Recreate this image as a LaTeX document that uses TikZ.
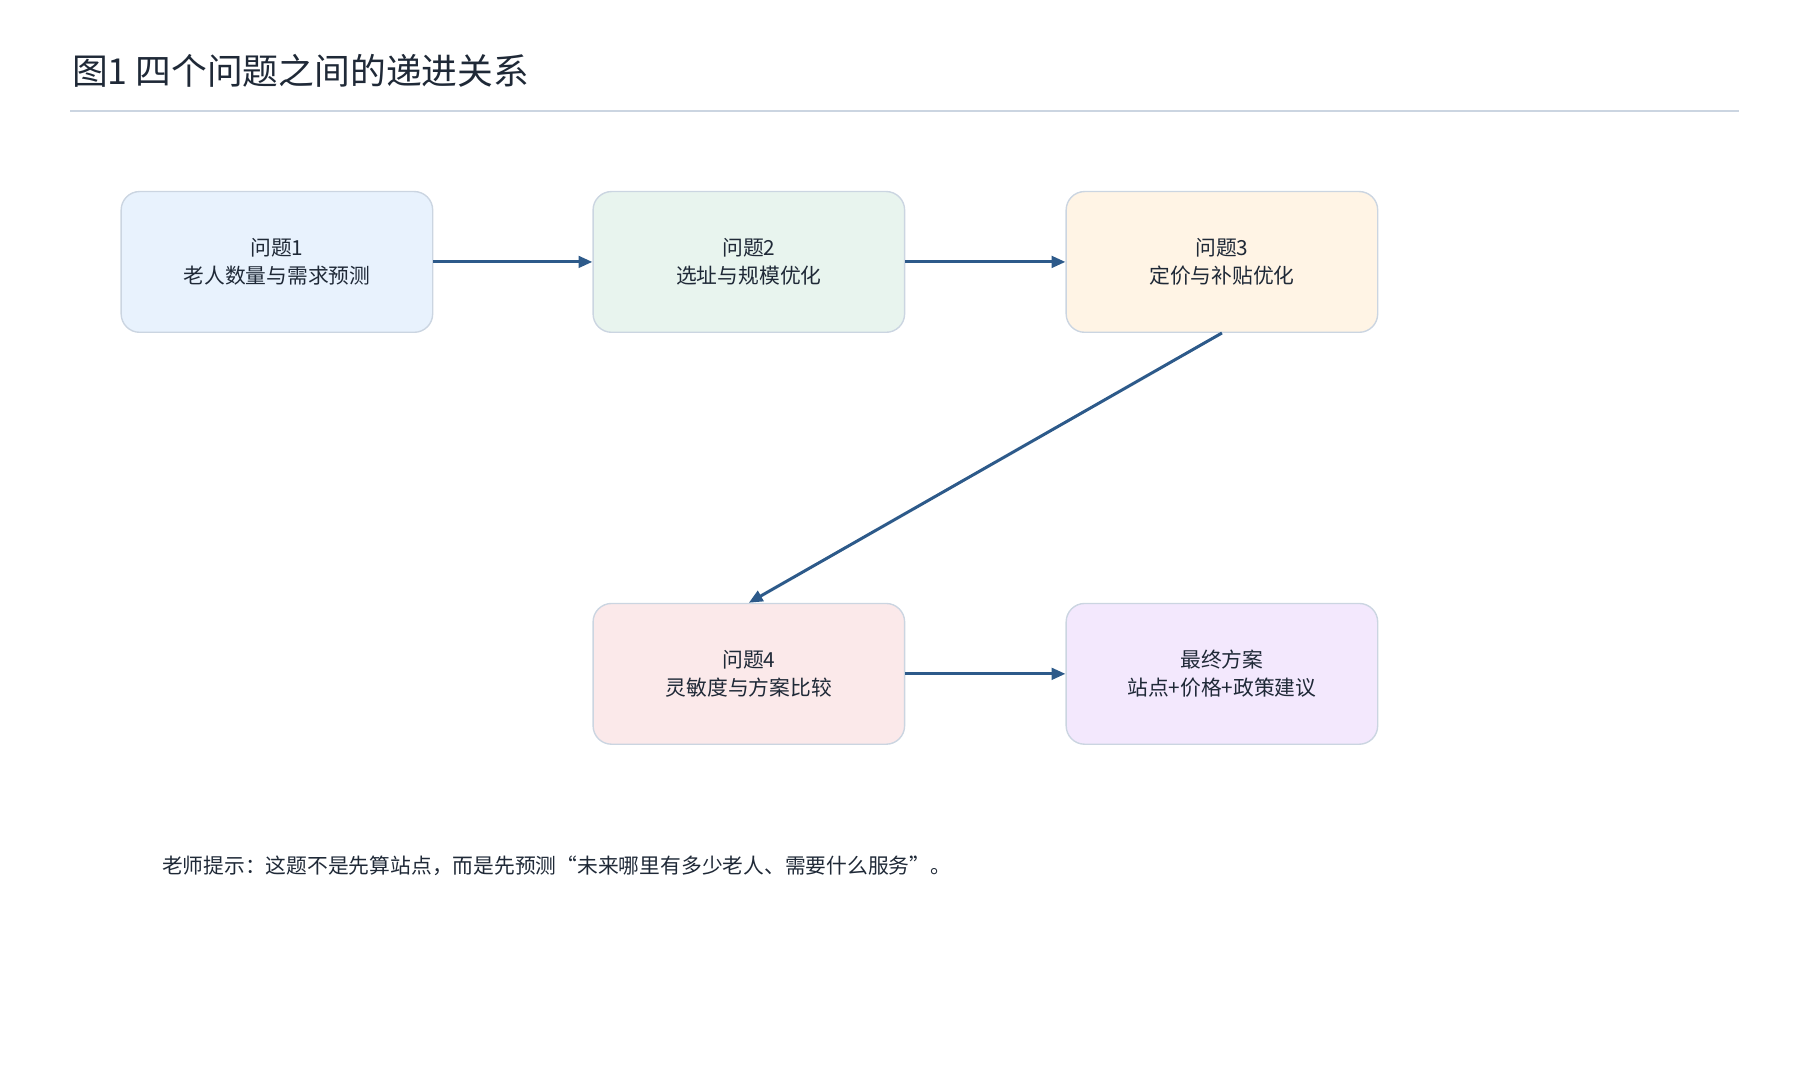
\documentclass[tikz,border=0pt]{standalone}
\usepackage{fontspec}
\setmainfont{Noto Sans CJK SC}
\usetikzlibrary{positioning,arrows.meta}
\definecolor{edgeblue}{HTML}{2D5A8A}
\definecolor{boxline}{HTML}{CBD5E1}
\definecolor{titlecol}{HTML}{1F2937}
\definecolor{fillA}{HTML}{E8F2FD}
\definecolor{fillB}{HTML}{E8F4EE}
\definecolor{fillC}{HTML}{FFF4E5}
\definecolor{fillD}{HTML}{FBE9EA}
\definecolor{fillE}{HTML}{F3E8FD}
\tikzset{
  taskbox/.style={draw=boxline, line width=0.6pt, rounded corners=8pt, minimum width=135pt, minimum height=61pt, align=center, font=\fontsize{9}{12}\selectfont, text=titlecol},
  flow/.style={-{Triangle[length=6pt,width=5pt]}, draw=edgeblue, line width=1.3pt}
}
\begin{document}
\begin{tikzpicture}[x=0.5pt,y=-0.5pt]
   \useasboundingbox (0,0) rectangle (1560,936);
   \node[anchor=west, font=\fontsize{15.5}{18}\selectfont, text=titlecol, inner sep=0pt] (title) at (62,61) {图1 四个问题之间的递进关系};
   \draw[boxline, line width=1pt] (61,96) -- (1507,96);
   \node[taskbox, fill=fillA] (p_1) at (240,227) {问题1\\老人数量与需求预测};
   \node[taskbox, fill=fillB] (p_2) at (649,227) {问题2\\选址与规模优化};
   \node[taskbox, fill=fillC] (p_3) at (1059,227) {问题3\\定价与补贴优化};
   \node[taskbox, fill=fillD] (p_4) at (649,584) {问题4\\灵敏度与方案比较};
   \node[taskbox, fill=fillE] (p_5) at (1059,584) {最终方案\\站点+价格+政策建议};
   \draw[flow] (p_1) -- (p_2);
   \draw[flow] (p_2) -- (p_3);
   \draw[flow] (p_3.south) -- (p_4.north);
   \draw[flow] (p_4) -- (p_5);
   \node[anchor=west, font=\fontsize{9}{12}\selectfont, text=titlecol, inner sep=0pt] (note) at (140,750) {老师提示：这题不是先算站点，而是先预测“未来哪里有多少老人、需要什么服务”。};
\end{tikzpicture}
\end{document}
